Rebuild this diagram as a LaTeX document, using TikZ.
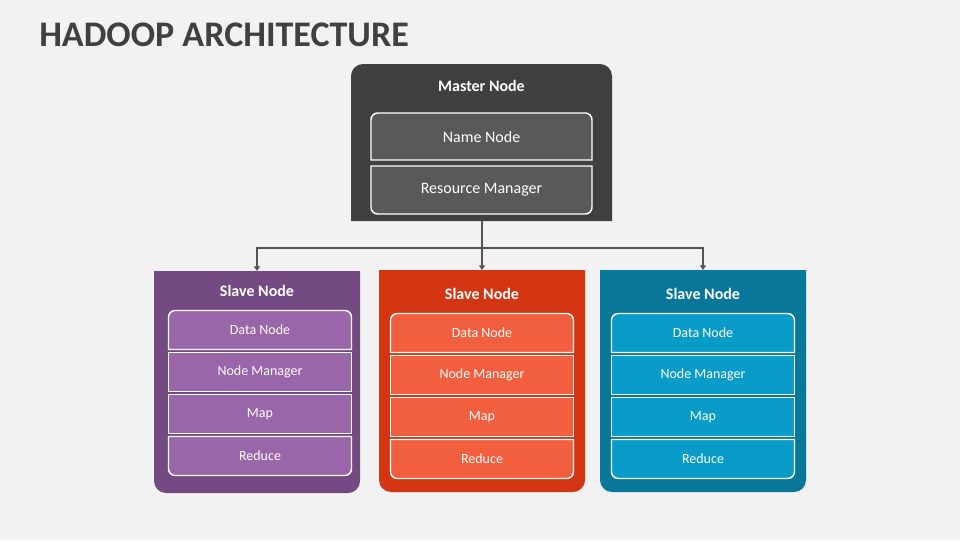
\documentclass[tikz,border=0pt]{standalone}
\usepackage{fontspec}
\setmainfont{Carlito}
\usetikzlibrary{arrows.meta,backgrounds}
\definecolor{bgc}{HTML}{F2F2F2}
\definecolor{titlec}{HTML}{404040}
\definecolor{mOut}{HTML}{404040}
\definecolor{mIn}{HTML}{595959}
\definecolor{pOut}{HTML}{744A83}
\definecolor{pIn}{HTML}{9A66AA}
\definecolor{rOut}{HTML}{D43512}
\definecolor{rIn}{HTML}{F15F3F}
\definecolor{bOut}{HTML}{08779A}
\definecolor{bIn}{HTML}{0A9CC9}
\definecolor{linec}{HTML}{555555}
% top corners rounded
\newcommand\HArTop[3]{\path[#1] (#2.south west) -- ([yshift=-#3]#2.north west) arc[start angle=180,end angle=90,radius=#3] -- ([xshift=-#3]#2.north east) arc[start angle=90,end angle=0,radius=#3] -- (#2.south east) -- cycle;}
% bottom corners rounded
\newcommand\HArBot[3]{\path[#1] (#2.north west) -- ([yshift=#3]#2.south west) arc[start angle=180,end angle=270,radius=#3] -- ([xshift=-#3]#2.south east) arc[start angle=270,end angle=360,radius=#3] -- (#2.north east) -- cycle;}
\tikzset{
  shapebox/.style={rectangle, inner sep=0pt, outer sep=0pt, text=white},
  masterbox/.style={shapebox, minimum width=195.75pt, minimum height=117.75pt},
  mitem/.style={shapebox, minimum width=165.75pt, font=\fontsize{12}{14}\selectfont},
  slavebox/.style={shapebox, minimum width=154.5pt, minimum height=166.5pt},
  sitem/.style={shapebox, minimum width=137.25pt, minimum height=29.25pt, font=\fontsize{10.5}{12}\selectfont},
  boxtitle/.style={text=white, inner sep=0pt, font=\bfseries\fontsize{12}{14}\selectfont},
  itemline/.style={line width=1.1pt, draw=white},
  conn/.style={draw=linec, line width=0.9pt, -{Triangle[width=4.5pt,length=3.5pt]}},
}
\begin{document}
\begin{tikzpicture}[x=0.75pt,y=-0.75pt]
\useasboundingbox (0,0) rectangle (960,540);
\begin{scope}[on background layer]
\fill[bgc] (0,0) rectangle (960,540);
\end{scope}
\node[anchor=base west, inner sep=0pt, text=titlec, font=\bfseries\fontsize{27}{30}\selectfont] (title) at (39,46) {HADOOP ARCHITECTURE};
% master
\node[masterbox] (master) at (481.5,142.5) {};
\node[boxtitle] (mtitle) at (481.5,86) {Master Node};
\node[mitem, minimum height=35.25pt] (m1) at (481.5,136.5) {Name Node};
\node[mitem, minimum height=36pt] (m2) at (481.5,190) {Resource Manager};
% slaves
\node[slavebox] (ps) at (257,382) {};
\node[boxtitle] (pt) at (257,291) {Slave Node};
\node[sitem] (p1) at (260,330) {Data Node};
\node[sitem] (p2) at (260,372) {Node Manager};
\node[sitem] (p3) at (260,414) {Map};
\node[sitem] (p4) at (260,456) {Reduce};
\node[slavebox] (rs) at (482,381) {};
\node[boxtitle] (rt) at (482,294) {Slave Node};
\node[sitem] (r1) at (482,333) {Data Node};
\node[sitem] (r2) at (482,375) {Node Manager};
\node[sitem] (r3) at (482,417) {Map};
\node[sitem] (r4) at (482,459) {Reduce};
\node[slavebox] (bs) at (703,381) {};
\node[boxtitle] (bt) at (703,294) {Slave Node};
\node[sitem] (b1) at (703,333) {Data Node};
\node[sitem] (b2) at (703,375) {Node Manager};
\node[sitem] (b3) at (703,417) {Map};
\node[sitem] (b4) at (703,459) {Reduce};
\begin{scope}[on background layer]
\HArTop{fill=mOut}{master}{9pt}
\HArTop{fill=mIn,itemline}{m1}{5pt}
\HArBot{fill=mIn,itemline}{m2}{5pt}
\HArBot{fill=pOut}{ps}{9pt}
\HArTop{fill=pIn,itemline}{p1}{5pt}
\path[fill=pIn,itemline] (p2.south west) rectangle (p2.north east);
\path[fill=pIn,itemline] (p3.south west) rectangle (p3.north east);
\HArBot{fill=pIn,itemline}{p4}{5pt}
\HArBot{fill=rOut}{rs}{9pt}
\HArTop{fill=rIn,itemline}{r1}{5pt}
\path[fill=rIn,itemline] (r2.south west) rectangle (r2.north east);
\path[fill=rIn,itemline] (r3.south west) rectangle (r3.north east);
\HArBot{fill=rIn,itemline}{r4}{5pt}
\HArBot{fill=bOut}{bs}{9pt}
\HArTop{fill=bIn,itemline}{b1}{5pt}
\path[fill=bIn,itemline] (b2.south west) rectangle (b2.north east);
\path[fill=bIn,itemline] (b3.south west) rectangle (b3.north east);
\HArBot{fill=bIn,itemline}{b4}{5pt}
\end{scope}
% connectors
\coordinate (junc) at (482,248);
\draw[conn] (rs.north |- master.south) -- (rs.north);
\draw[conn] (junc) -| (ps.north);
\draw[conn] (junc) -| (bs.north);
\end{tikzpicture}
\end{document}
